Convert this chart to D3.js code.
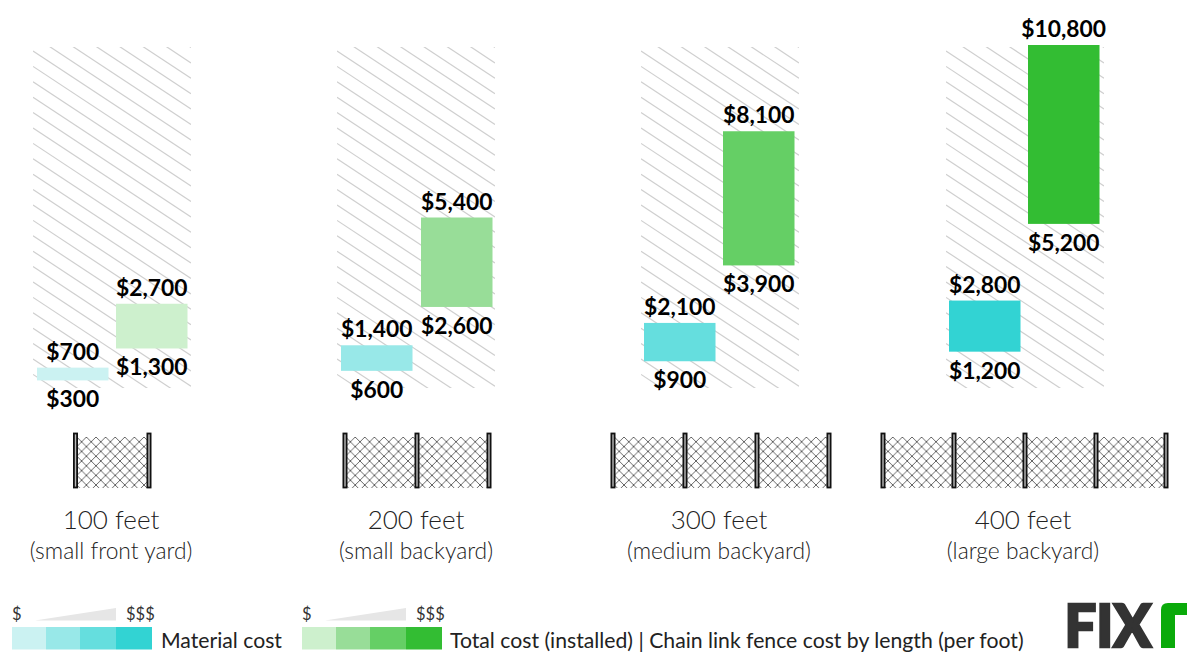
<!DOCTYPE html>
<html><head><meta charset="utf-8">
<script src="https://cdn.jsdelivr.net/npm/d3@7/dist/d3.min.js"></script>
<style>html,body{margin:0;padding:0;background:#fff}svg{display:block}text{font-family:Lato,sans-serif}</style>
</head><body><svg id="c" width="1200" height="661"></svg>
<script>
const lengths=["100 feet","200 feet","300 feet","400 feet"];
const yards=["(small front yard)","(small backyard)","(medium backyard)","(large backyard)"];
const materialLow=[300,600,900,1200];
const materialHigh=[700,1400,2100,2800];
const totalLow=[1300,2600,3900,5200];
const totalHigh=[2700,5400,8100,10800];
const materialColors=["#cbf2f2","#98e8e8","#65dede","#32d3d3"];
const totalColors=["#cdf0cd","#98dd98","#65cf65","#33bd33"];
const panelX=[33,337,641,946];
const materialX=[37,341,644,949];
const totalX=[116,421,723,1028];
const labelX=[111,416,719,1023];
const postX=[[75.5,149],[345,417,489],[613,685,757,829],[883,954,1025,1096,1166]];

const svg=d3.select("#c");
const y=d3.scaleLinear().domain([0,10800]).range([390,45]);
const defs=svg.append("defs");
const hatchStep=15.4, hatchSlope=0.66;
panelX.forEach((px,k)=>{
 defs.append("clipPath").attr("id","pc"+k).append("rect").attr("x",px).attr("y",47).attr("width",158).attr("height",341);
 const g=svg.append("g").attr("clip-path",`url(#pc${k})`);
 const offs=d3.range(-8,23).map(i=>51+i*hatchStep);
 g.selectAll("line").data(offs).join("line").attr("x1",px).attr("x2",px+158)
  .attr("y1",d=>d).attr("y2",d=>d+158*hatchSlope).attr("stroke","#cfcfcf").attr("stroke-width",1.2);
});
const mesh=defs.append("pattern").attr("id","mesh").attr("patternUnits","userSpaceOnUse")
 .attr("width",9.6).attr("height",9.6).attr("patternTransform","translate(0,437)");
mesh.append("path").attr("d","M0,0L9.6,9.6M9.6,0L0,9.6").attr("stroke","#555").attr("stroke-width",0.9).attr("fill","none");

function bars(xs,lo,hi,cols){
 svg.selectAll(null).data(xs).join("rect").attr("x",d=>d).attr("width",71.5)
  .attr("y",(d,i)=>y(hi[i])).attr("height",(d,i)=>y(lo[i])-y(hi[i])).attr("fill",(d,i)=>cols[i]);
 const fmt=d3.format("$,");
 const t=svg.selectAll(null).data(xs).join("g");
 t.append("text").attr("x",d=>d+35.7).attr("y",(d,i)=>y(hi[i])-8).text((d,i)=>fmt(hi[i]));
 t.append("text").attr("x",d=>d+35.7).attr("y",(d,i)=>y(lo[i])+27).text((d,i)=>fmt(lo[i]));
 t.selectAll("text").attr("text-anchor","middle").attr("font-size",22.8).attr("font-weight",700).attr("fill","#000");
}
bars(materialX,materialLow,materialHigh,materialColors);
bars(totalX,totalLow,totalHigh,totalColors);

postX.forEach(ps=>{
 const g=svg.append("g");
 g.append("rect").attr("x",ps[0]).attr("y",437).attr("width",ps[ps.length-1]-ps[0]).attr("height",51).attr("fill","url(#mesh)");
 g.selectAll("rect.post").data(ps).join("rect").attr("class","post").attr("x",d=>d-1.6).attr("y",433.5).attr("width",3.2).attr("height",54)
  .attr("fill","#bbb").attr("stroke","#111").attr("stroke-width",1.8);
});

svg.selectAll(null).data(lengths).join("text").attr("x",(d,i)=>labelX[i]).attr("y",529)
 .attr("text-anchor","middle").attr("font-size",26).attr("font-weight",300).attr("fill","#222").text(d=>d);
svg.selectAll(null).data(yards).join("text").attr("x",(d,i)=>labelX[i]).attr("y",559)
 .attr("text-anchor","middle").attr("font-size",22.8).attr("font-weight",300).attr("fill","#222").text(d=>d);

const legW=[34,34,36,36];
function legend(x0,cols,label,lx){
 let x=x0;
 cols.forEach((c,i)=>{svg.append("rect").attr("x",x).attr("y",627).attr("width",legW[i]).attr("height",22.5).attr("fill",c);x+=legW[i];});
 svg.append("path").attr("d",`M${x0+23},620.5L${x0+104},620.5L${x0+104},608Z`).attr("fill","#e6e6e6");
 svg.append("text").attr("x",x0).attr("y",620).attr("font-size",16.5).attr("fill","#333").text("$");
 svg.append("text").attr("x",x0+114).attr("y",620).attr("font-size",16.5).attr("fill","#333").text("$$$");
 svg.append("text").attr("x",lx).attr("y",648).attr("font-size",21.2).attr("font-weight",400).attr("fill","#222").text(label);
}
legend(12,materialColors,"Material cost",161);
legend(302,totalColors,"Total cost (installed) | Chain link fence cost by length (per foot)",450);

svg.append("text").attr("x",1064.5).attr("y",647).attr("font-size",59).attr("font-weight",900).attr("fill","#333")
 .attr("stroke","#333").attr("stroke-width",2.5)
 .attr("textLength",87).attr("lengthAdjust","spacingAndGlyphs").text("FIX");
svg.append("path").attr("d","M1161,648V610Q1161,603 1168,603H1187V615H1175V648Z").attr("fill","#0aaa0a");
</script></body></html>
